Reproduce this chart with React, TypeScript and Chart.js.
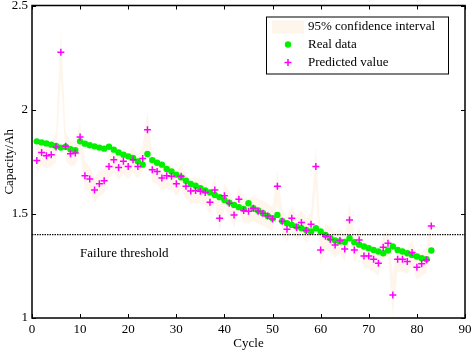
import React, { useEffect, useRef } from "react";
import { Chart, registerables } from "chart.js";

Chart.register(...registerables);

const realData = [
  1.848, 1.843, 1.838, 1.832, 1.826, 1.818, 1.822, 1.81, 1.806, 1.848,
  1.837, 1.829, 1.824, 1.818, 1.813, 1.822, 1.808, 1.795, 1.784, 1.776,
  1.768, 1.752, 1.736, 1.787, 1.758, 1.745, 1.736, 1.715, 1.703, 1.688,
  1.675, 1.659, 1.643, 1.635, 1.623, 1.612, 1.603, 1.591, 1.58, 1.567,
  1.554, 1.543, 1.532, 1.523, 1.551, 1.527, 1.516, 1.503, 1.49, 1.479,
  1.495, 1.466, 1.455, 1.447, 1.439, 1.431, 1.423, 1.415, 1.431, 1.415,
  1.399, 1.383, 1.372, 1.367, 1.365, 1.383, 1.364, 1.352, 1.343, 1.335,
  1.327, 1.319, 1.311, 1.324, 1.343, 1.327, 1.319, 1.311, 1.303, 1.295,
  1.287, 1.282, 1.324,
];

const predicted = [
  1.756, 1.795, 1.779, 1.784, 1.821, 2.276, 1.824, 1.788, 1.792, 1.869,
  1.683, 1.667, 1.615, 1.644, 1.659, 1.727, 1.76, 1.723, 1.752, 1.727,
  1.76, 1.727, 1.766, 1.904, 1.712, 1.703, 1.672, 1.683, 1.68, 1.644,
  1.681, 1.632, 1.61, 1.612, 1.608, 1.603, 1.556, 1.615, 1.479, 1.587,
  1.551, 1.495, 1.57, 1.516, 1.512, 1.527, 1.512, 1.503, 1.49, 1.475,
  1.632, 1.465, 1.426, 1.479, 1.434, 1.458, 1.42, 1.45, 1.727, 1.327,
  1.392, 1.377, 1.351, 1.372, 1.331, 1.47, 1.326, 1.375, 1.298, 1.298,
  1.282, 1.263, 1.34, 1.359, 1.111, 1.282, 1.282, 1.271, 1.314, 1.244,
  1.26, 1.279, 1.442,
];

const ciHalfWidth = [
  0.06, 0.06, 0.06, 0.06, 0.07, 0.12, 0.07, 0.06, 0.06, 0.07,
  0.07, 0.06, 0.06, 0.06, 0.06, 0.06, 0.06, 0.06, 0.06, 0.06,
  0.06, 0.06, 0.06, 0.09, 0.06, 0.06, 0.06, 0.06, 0.06, 0.06,
  0.06, 0.06, 0.06, 0.06, 0.06, 0.06, 0.06, 0.06, 0.06, 0.06,
  0.06, 0.06, 0.06, 0.06, 0.06, 0.06, 0.06, 0.06, 0.06, 0.06,
  0.08, 0.06, 0.06, 0.06, 0.06, 0.06, 0.06, 0.06, 0.1, 0.07,
  0.06, 0.06, 0.06, 0.06, 0.06, 0.08, 0.06, 0.06, 0.06, 0.06,
  0.06, 0.06, 0.06, 0.06, 0.1, 0.06, 0.06, 0.06, 0.06, 0.06,
  0.06, 0.06, 0.06,
];

const xTicks = [0, 10, 20, 30, 40, 50, 60, 70, 80, 90];
const yTicks = [1, 1.5, 2, 2.5];
const thresholdValue = 1.4;
const thresholdLabel = "Failure threshold";
const legendLabels = ["95% confidence interval", "Real data", "Predicted value"];

const FONT = "'Liberation Serif', 'Times New Roman', serif";
const BAND = "rgba(250, 215, 170, 0.22)";
const GREEN = "rgb(0, 240, 0)";
const MAGENTA = "rgb(255, 0, 255)";

const framePlugin = {
  id: "frame",
  afterDatasetsDraw(chart: any) {
    const { ctx, chartArea: a, scales } = chart;
    const xs = scales.x;
    const ys = scales.y;
    ctx.save();
    ctx.strokeStyle = "#000";
    ctx.lineWidth = 1;
    const tl = 4;
    xTicks.forEach((v) => {
      const px = Math.round(xs.getPixelForValue(v)) + 0.5;
      ctx.beginPath();
      ctx.moveTo(px, a.bottom);
      ctx.lineTo(px, a.bottom - tl);
      ctx.moveTo(px, a.top);
      ctx.lineTo(px, a.top + tl);
      ctx.stroke();
    });
    yTicks.forEach((v) => {
      const py = Math.round(ys.getPixelForValue(v)) + 0.5;
      ctx.beginPath();
      ctx.moveTo(a.left, py);
      ctx.lineTo(a.left + tl, py);
      ctx.moveTo(a.right, py);
      ctx.lineTo(a.right - tl, py);
      ctx.stroke();
    });
    ctx.lineWidth = 1.5;
    ctx.strokeRect(a.left, a.top, a.right - a.left, a.bottom - a.top);

    // threshold label
    ctx.fillStyle = "#000";
    ctx.font = `13px ${FONT}`;
    ctx.textAlign = "left";
    ctx.textBaseline = "middle";
    ctx.fillText(thresholdLabel, xs.getPixelForValue(10), ys.getPixelForValue(1.31));

    // legend
    const lx = a.right - 199;
    const ly = a.top + 11;
    const lw = 182;
    const lh = 57;
    ctx.fillStyle = "#fff";
    ctx.fillRect(lx, ly, lw, lh);
    ctx.lineWidth = 1;
    ctx.strokeStyle = "#000";
    ctx.strokeRect(lx + 0.5, ly + 0.5, lw, lh);
    ctx.fillStyle = BAND;
    ctx.fillRect(lx + 6, ly + 4, 32, 13);
    const rowY = [ly + 10, ly + 28, ly + 46];
    const sx = lx + 22;
    ctx.fillStyle = GREEN;
    ctx.beginPath();
    ctx.arc(sx, rowY[1], 3.2, 0, Math.PI * 2);
    ctx.fill();
    ctx.strokeStyle = MAGENTA;
    ctx.lineWidth = 1.5;
    ctx.beginPath();
    ctx.moveTo(sx - 3.5, rowY[2]);
    ctx.lineTo(sx + 3.5, rowY[2]);
    ctx.moveTo(sx, rowY[2] - 3.5);
    ctx.lineTo(sx, rowY[2] + 3.5);
    ctx.stroke();
    ctx.fillStyle = "#000";
    ctx.font = `13px ${FONT}`;
    legendLabels.forEach((t, i) => ctx.fillText(t, lx + 42, rowY[i]));
    ctx.restore();
  },
};

export default function App() {
  const ref = useRef<HTMLCanvasElement>(null);
  useEffect(() => {
    if (!ref.current) return;
    const real = realData.map((y, i) => ({ x: i + 1, y }));
    const pred = predicted.map((y, i) => ({ x: i + 1, y }));
    const upper = predicted.map((y, i) => ({ x: i + 1, y: y + ciHalfWidth[i] }));
    const lower = predicted.map((y, i) => ({ x: i + 1, y: y - ciHalfWidth[i] }));
    const chart = new Chart(ref.current, {
      type: "line",
      data: {
        datasets: [
          {
            label: "upper",
            data: upper,
            borderWidth: 0,
            borderColor: "rgba(0,0,0,0)",
            backgroundColor: BAND,
            pointRadius: 0,
            fill: "+1",
            order: 5,
          },
          {
            label: "lower",
            data: lower,
            borderWidth: 0,
            borderColor: "rgba(0,0,0,0)",
            pointRadius: 0,
            fill: false,
            order: 5,
          },
          {
            label: legendLabels[1],
            data: real,
            showLine: false,
            pointRadius: 3.2,
            pointBackgroundColor: GREEN,
            pointBorderColor: GREEN,
            pointBorderWidth: 0,
            order: 3,
          },
          {
            label: "threshold",
            data: [
              { x: xTicks[0], y: thresholdValue },
              { x: xTicks[xTicks.length - 1], y: thresholdValue },
            ],
            borderColor: "#111",
            borderWidth: 1.3,
            borderDash: [1.5, 1],
            pointRadius: 0,
            fill: false,
            order: 2,
          },
          {
            label: legendLabels[2],
            data: pred,
            showLine: false,
            pointStyle: "cross",
            pointRadius: 3.5,
            pointBorderColor: MAGENTA,
            pointBorderWidth: 1.5,
            order: 1,
          },
        ],
      },
      options: {
        animation: false,
        responsive: true,
        maintainAspectRatio: false,
        layout: { padding: { top: 5, right: 9, left: 0, bottom: 0 } },
        plugins: { legend: { display: false }, tooltip: { enabled: false } },
        scales: {
          x: {
            type: "linear",
            min: xTicks[0],
            max: xTicks[xTicks.length - 1],
            afterFit: (s: any) => {
              s.height = 33;
              s.paddingLeft = 0;
              s.paddingRight = 0;
            },
            afterBuildTicks: (s: any) => {
              s.ticks = xTicks.map((v) => ({ value: v }));
            },
            grid: { display: false, drawTicks: false },
            border: { display: false },
            ticks: {
              color: "#000",
              font: { family: FONT, size: 13 },
              padding: 4,
              maxRotation: 0,
              callback: (v: any) => String(v),
            },
            title: {
              display: true,
              text: "Cycle",
              color: "#000",
              font: { family: FONT, size: 13 },
              padding: { top: 0, bottom: 0 },
            },
          },
          y: {
            type: "linear",
            min: yTicks[0],
            max: yTicks[yTicks.length - 1],
            afterFit: (s: any) => {
              s.width = 32;
              s.paddingTop = 0;
              s.paddingBottom = 0;
            },
            afterBuildTicks: (s: any) => {
              s.ticks = yTicks.map((v) => ({ value: v }));
            },
            grid: { display: false, drawTicks: false },
            border: { display: false },
            ticks: {
              color: "#000",
              font: { family: FONT, size: 13 },
              padding: 4,
              callback: (v: any) => String(v),
            },
            title: {
              display: true,
              text: "Capacity/Ah",
              color: "#000",
              font: { family: FONT, size: 13 },
              padding: { top: 2, bottom: 0 },
            },
          },
        },
      },
      plugins: [framePlugin],
    });
    return () => chart.destroy();
  }, []);
  return (
    <div style={{ position: "fixed", left: 0, top: 0, width: 474, height: 351, background: "#fff" }}>
      <canvas ref={ref} />
    </div>
  );
}
